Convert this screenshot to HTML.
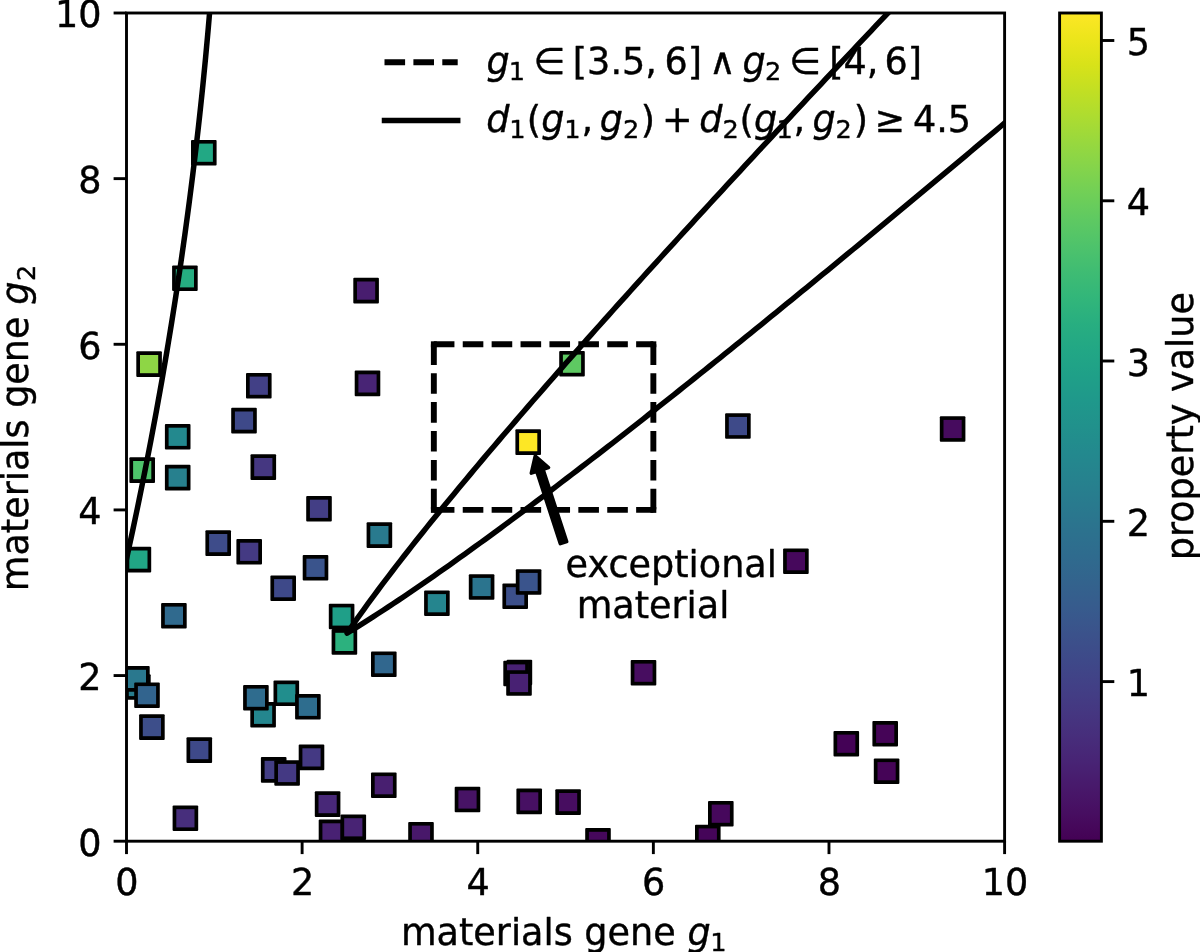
<!DOCTYPE html>
<html><head><meta charset="utf-8"><title>materials genes plot</title>
<style>html,body{margin:0;padding:0;background:#fff}svg{display:block}</style></head>
<body>
<svg width="1200" height="952" viewBox="0 0 1200 952">
<rect width="1200" height="952" fill="#fff"/>
<defs>
<clipPath id="ax"><rect x="126.5" y="13.0" width="878.1" height="828.2"/></clipPath>
<linearGradient id="vg" x1="0" y1="0" x2="0" y2="1"><stop offset="0.0000" stop-color="#fde725"/><stop offset="0.0312" stop-color="#ece51b"/><stop offset="0.0625" stop-color="#d8e219"/><stop offset="0.0938" stop-color="#c2df23"/><stop offset="0.1250" stop-color="#addc30"/><stop offset="0.1562" stop-color="#98d83e"/><stop offset="0.1875" stop-color="#84d44b"/><stop offset="0.2188" stop-color="#70cf57"/><stop offset="0.2500" stop-color="#5ec962"/><stop offset="0.2812" stop-color="#4ec36b"/><stop offset="0.3125" stop-color="#3fbc73"/><stop offset="0.3438" stop-color="#32b67a"/><stop offset="0.3750" stop-color="#28ae80"/><stop offset="0.4062" stop-color="#22a785"/><stop offset="0.4375" stop-color="#1fa088"/><stop offset="0.4688" stop-color="#1f988b"/><stop offset="0.5000" stop-color="#21918c"/><stop offset="0.5312" stop-color="#23898e"/><stop offset="0.5625" stop-color="#26828e"/><stop offset="0.5938" stop-color="#297a8e"/><stop offset="0.6250" stop-color="#2c728e"/><stop offset="0.6562" stop-color="#2f6b8e"/><stop offset="0.6875" stop-color="#33638d"/><stop offset="0.7188" stop-color="#375b8d"/><stop offset="0.7500" stop-color="#3b528b"/><stop offset="0.7812" stop-color="#3e4989"/><stop offset="0.8125" stop-color="#424086"/><stop offset="0.8438" stop-color="#453781"/><stop offset="0.8750" stop-color="#472d7b"/><stop offset="0.9062" stop-color="#482374"/><stop offset="0.9375" stop-color="#48186a"/><stop offset="0.9688" stop-color="#470d60"/><stop offset="1.0000" stop-color="#440154"/></linearGradient>
</defs>
<g clip-path="url(#ax)">
<rect x="191.00" y="139.90" width="25.60" height="25.60" rx="1" fill="#000"/><rect x="194.70" y="143.60" width="18.20" height="18.20" fill="#22a884"/>
<rect x="172.10" y="265.50" width="25.60" height="25.60" rx="1" fill="#000"/><rect x="175.80" y="269.20" width="18.20" height="18.20" fill="#26ad81"/>
<rect x="353.30" y="277.80" width="25.60" height="25.60" rx="1" fill="#000"/><rect x="357.00" y="281.50" width="18.20" height="18.20" fill="#481d6f"/>
<rect x="136.30" y="351.30" width="25.60" height="25.60" rx="1" fill="#000"/><rect x="140.00" y="355.00" width="18.20" height="18.20" fill="#8ed645"/>
<rect x="246.00" y="372.90" width="25.60" height="25.60" rx="1" fill="#000"/><rect x="249.70" y="376.60" width="18.20" height="18.20" fill="#424086"/>
<rect x="354.70" y="370.60" width="25.60" height="25.60" rx="1" fill="#000"/><rect x="358.40" y="374.30" width="18.20" height="18.20" fill="#482475"/>
<rect x="231.20" y="407.80" width="25.60" height="25.60" rx="1" fill="#000"/><rect x="234.90" y="411.50" width="18.20" height="18.20" fill="#3e4989"/>
<rect x="164.90" y="424.00" width="25.60" height="25.60" rx="1" fill="#000"/><rect x="168.60" y="427.70" width="18.20" height="18.20" fill="#23898e"/>
<rect x="129.40" y="457.30" width="25.60" height="25.60" rx="1" fill="#000"/><rect x="133.10" y="461.00" width="18.20" height="18.20" fill="#4ec36b"/>
<rect x="164.90" y="464.80" width="25.60" height="25.60" rx="1" fill="#000"/><rect x="168.60" y="468.50" width="18.20" height="18.20" fill="#27808e"/>
<rect x="250.50" y="454.30" width="25.60" height="25.60" rx="1" fill="#000"/><rect x="254.20" y="458.00" width="18.20" height="18.20" fill="#453781"/>
<rect x="306.20" y="496.00" width="25.60" height="25.60" rx="1" fill="#000"/><rect x="309.90" y="499.70" width="18.20" height="18.20" fill="#433e85"/>
<rect x="366.60" y="522.30" width="25.60" height="25.60" rx="1" fill="#000"/><rect x="370.30" y="526.00" width="18.20" height="18.20" fill="#297a8e"/>
<rect x="205.40" y="530.30" width="25.60" height="25.60" rx="1" fill="#000"/><rect x="209.10" y="534.00" width="18.20" height="18.20" fill="#3e4c8a"/>
<rect x="236.40" y="539.00" width="25.60" height="25.60" rx="1" fill="#000"/><rect x="240.10" y="542.70" width="18.20" height="18.20" fill="#443a83"/>
<rect x="125.60" y="546.80" width="25.60" height="25.60" rx="1" fill="#000"/><rect x="129.30" y="550.50" width="18.20" height="18.20" fill="#21a685"/>
<rect x="302.70" y="555.00" width="25.60" height="25.60" rx="1" fill="#000"/><rect x="306.40" y="558.70" width="18.20" height="18.20" fill="#3a548c"/>
<rect x="270.40" y="575.40" width="25.60" height="25.60" rx="1" fill="#000"/><rect x="274.10" y="579.10" width="18.20" height="18.20" fill="#3e4989"/>
<rect x="161.10" y="602.90" width="25.60" height="25.60" rx="1" fill="#000"/><rect x="164.80" y="606.60" width="18.20" height="18.20" fill="#306a8e"/>
<rect x="331.60" y="629.10" width="25.60" height="25.60" rx="1" fill="#000"/><rect x="335.30" y="632.80" width="18.20" height="18.20" fill="#2cb17e"/>
<rect x="328.80" y="603.70" width="25.60" height="25.60" rx="1" fill="#000"/><rect x="332.50" y="607.40" width="18.20" height="18.20" fill="#1f9f88"/>
<rect x="371.00" y="651.40" width="25.60" height="25.60" rx="1" fill="#000"/><rect x="374.70" y="655.10" width="18.20" height="18.20" fill="#31678e"/>
<rect x="125.10" y="674.20" width="25.60" height="25.60" rx="1" fill="#000"/><rect x="128.80" y="677.90" width="18.20" height="18.20" fill="#287d8e"/>
<rect x="124.10" y="666.10" width="25.60" height="25.60" rx="1" fill="#000"/><rect x="127.80" y="669.80" width="18.20" height="18.20" fill="#2a788e"/>
<rect x="134.20" y="682.40" width="25.60" height="25.60" rx="1" fill="#000"/><rect x="137.90" y="686.10" width="18.20" height="18.20" fill="#32648e"/>
<rect x="139.10" y="714.30" width="25.60" height="25.60" rx="1" fill="#000"/><rect x="142.80" y="718.00" width="18.20" height="18.20" fill="#3d4e8a"/>
<rect x="250.30" y="702.00" width="25.60" height="25.60" rx="1" fill="#000"/><rect x="254.00" y="705.70" width="18.20" height="18.20" fill="#24868e"/>
<rect x="243.10" y="684.90" width="25.60" height="25.60" rx="1" fill="#000"/><rect x="246.80" y="688.60" width="18.20" height="18.20" fill="#2f6c8e"/>
<rect x="273.50" y="680.50" width="25.60" height="25.60" rx="1" fill="#000"/><rect x="277.20" y="684.20" width="18.20" height="18.20" fill="#218e8d"/>
<rect x="295.10" y="694.00" width="25.60" height="25.60" rx="1" fill="#000"/><rect x="298.80" y="697.70" width="18.20" height="18.20" fill="#2e6d8e"/>
<rect x="186.50" y="737.30" width="25.60" height="25.60" rx="1" fill="#000"/><rect x="190.20" y="741.00" width="18.20" height="18.20" fill="#3e4989"/>
<rect x="298.70" y="744.60" width="25.60" height="25.60" rx="1" fill="#000"/><rect x="302.40" y="748.30" width="18.20" height="18.20" fill="#443983"/>
<rect x="260.90" y="757.10" width="25.60" height="25.60" rx="1" fill="#000"/><rect x="264.60" y="760.80" width="18.20" height="18.20" fill="#433e85"/>
<rect x="274.30" y="760.20" width="25.60" height="25.60" rx="1" fill="#000"/><rect x="278.00" y="763.90" width="18.20" height="18.20" fill="#443983"/>
<rect x="172.60" y="805.50" width="25.60" height="25.60" rx="1" fill="#000"/><rect x="176.30" y="809.20" width="18.20" height="18.20" fill="#472e7c"/>
<rect x="314.80" y="791.30" width="25.60" height="25.60" rx="1" fill="#000"/><rect x="318.50" y="795.00" width="18.20" height="18.20" fill="#482878"/>
<rect x="371.00" y="772.40" width="25.60" height="25.60" rx="1" fill="#000"/><rect x="374.70" y="776.10" width="18.20" height="18.20" fill="#481f70"/>
<rect x="318.70" y="819.60" width="25.60" height="25.60" rx="1" fill="#000"/><rect x="322.40" y="823.30" width="18.20" height="18.20" fill="#482173"/>
<rect x="340.50" y="814.50" width="25.60" height="25.60" rx="1" fill="#000"/><rect x="344.20" y="818.20" width="18.20" height="18.20" fill="#482374"/>
<rect x="408.20" y="821.90" width="25.60" height="25.60" rx="1" fill="#000"/><rect x="411.90" y="825.60" width="18.20" height="18.20" fill="#48186a"/>
<rect x="424.10" y="590.40" width="25.60" height="25.60" rx="1" fill="#000"/><rect x="427.80" y="594.10" width="18.20" height="18.20" fill="#25858e"/>
<rect x="468.80" y="574.20" width="25.60" height="25.60" rx="1" fill="#000"/><rect x="472.50" y="577.90" width="18.20" height="18.20" fill="#2b748e"/>
<rect x="502.40" y="583.50" width="25.60" height="25.60" rx="1" fill="#000"/><rect x="506.10" y="587.20" width="18.20" height="18.20" fill="#3c4f8a"/>
<rect x="515.80" y="569.20" width="25.60" height="25.60" rx="1" fill="#000"/><rect x="519.50" y="572.90" width="18.20" height="18.20" fill="#3a548c"/>
<rect x="506.60" y="659.70" width="25.60" height="25.60" rx="1" fill="#000"/><rect x="510.30" y="663.40" width="18.20" height="18.20" fill="#482173"/>
<rect x="503.30" y="660.70" width="25.60" height="25.60" rx="1" fill="#000"/><rect x="507.00" y="664.40" width="18.20" height="18.20" fill="#482173"/>
<rect x="506.20" y="670.20" width="25.60" height="25.60" rx="1" fill="#000"/><rect x="509.90" y="673.90" width="18.20" height="18.20" fill="#482173"/>
<rect x="630.70" y="659.90" width="25.60" height="25.60" rx="1" fill="#000"/><rect x="634.40" y="663.60" width="18.20" height="18.20" fill="#470d60"/>
<rect x="454.70" y="786.70" width="25.60" height="25.60" rx="1" fill="#000"/><rect x="458.40" y="790.40" width="18.20" height="18.20" fill="#471365"/>
<rect x="516.40" y="788.60" width="25.60" height="25.60" rx="1" fill="#000"/><rect x="520.10" y="792.30" width="18.20" height="18.20" fill="#471063"/>
<rect x="555.30" y="789.30" width="25.60" height="25.60" rx="1" fill="#000"/><rect x="559.00" y="793.00" width="18.20" height="18.20" fill="#470d60"/>
<rect x="585.20" y="828.10" width="25.60" height="25.60" rx="1" fill="#000"/><rect x="588.90" y="831.80" width="18.20" height="18.20" fill="#46085c"/>
<rect x="695.00" y="824.70" width="25.60" height="25.60" rx="1" fill="#000"/><rect x="698.70" y="828.40" width="18.20" height="18.20" fill="#450559"/>
<rect x="708.00" y="800.90" width="25.60" height="25.60" rx="1" fill="#000"/><rect x="711.70" y="804.60" width="18.20" height="18.20" fill="#46085c"/>
<rect x="725.10" y="413.25" width="25.60" height="25.60" rx="1" fill="#000"/><rect x="728.80" y="416.95" width="18.20" height="18.20" fill="#3e4a89"/>
<rect x="939.80" y="416.20" width="25.60" height="25.60" rx="1" fill="#000"/><rect x="943.50" y="419.90" width="18.20" height="18.20" fill="#460b5e"/>
<rect x="783.10" y="548.40" width="25.60" height="25.60" rx="1" fill="#000"/><rect x="786.80" y="552.10" width="18.20" height="18.20" fill="#46085c"/>
<rect x="833.50" y="730.90" width="25.60" height="25.60" rx="1" fill="#000"/><rect x="837.20" y="734.60" width="18.20" height="18.20" fill="#440256"/>
<rect x="872.40" y="721.00" width="25.60" height="25.60" rx="1" fill="#000"/><rect x="876.10" y="724.70" width="18.20" height="18.20" fill="#450457"/>
<rect x="873.80" y="758.40" width="25.60" height="25.60" rx="1" fill="#000"/><rect x="877.50" y="762.10" width="18.20" height="18.20" fill="#450457"/>
<rect x="559.20" y="350.90" width="25.60" height="25.60" rx="1" fill="#000"/><rect x="562.90" y="354.60" width="18.20" height="18.20" fill="#5ec962"/>
<rect x="515.40" y="429.35" width="25.60" height="25.60" rx="1" fill="#000"/><rect x="519.10" y="433.05" width="18.20" height="18.20" fill="#fde725"/>
</g>
<g clip-path="url(#ax)" fill="none" stroke="#000" stroke-width="5.5" stroke-linejoin="round" stroke-linecap="round">
<path d="M935.01,-36.69 L930.44,-31.87 L925.86,-27.05 L921.28,-22.24 L916.71,-17.42 L912.14,-12.60 L907.57,-7.78 L903.01,-2.96 L898.44,1.86 L893.88,6.68 L889.33,11.50 L884.77,16.32 L880.22,21.13 L875.67,25.95 L871.12,30.77 L866.57,35.59 L862.03,40.41 L857.49,45.23 L852.95,50.05 L848.41,54.87 L843.88,59.69 L839.35,64.50 L834.82,69.32 L830.30,74.14 L825.78,78.96 L821.26,83.78 L816.74,88.60 L812.23,93.42 L807.72,98.24 L803.21,103.05 L798.71,107.87 L794.21,112.69 L789.71,117.51 L785.22,122.33 L780.73,127.15 L776.24,131.97 L771.75,136.79 L767.27,141.61 L762.79,146.42 L758.32,151.24 L753.85,156.06 L749.38,160.88 L744.92,165.70 L740.46,170.52 L736.00,175.34 L731.55,180.16 L727.10,184.98 L722.66,189.79 L718.22,194.61 L713.78,199.43 L709.35,204.25 L704.92,209.07 L700.49,213.89 L696.07,218.71 L691.66,223.53 L687.25,228.35 L682.84,233.16 L678.44,237.98 L674.04,242.80 L669.65,247.62 L665.26,252.44 L660.88,257.26 L656.50,262.08 L652.12,266.90 L647.75,271.71 L643.39,276.53 L639.03,281.35 L634.68,286.17 L630.33,290.99 L625.99,295.81 L621.65,300.63 L617.32,305.45 L613.00,310.27 L608.68,315.08 L604.37,319.90 L600.06,324.72 L595.76,329.54 L591.47,334.36 L587.18,339.18 L582.90,344.00 L578.62,348.82 L574.36,353.64 L570.10,358.45 L565.84,363.27 L561.60,368.09 L557.36,372.91 L553.13,377.73 L548.91,382.55 L544.69,387.37 L540.49,392.19 L536.29,397.00 L532.10,401.82 L527.92,406.64 L523.74,411.46 L519.58,416.28 L515.43,421.10 L511.28,425.92 L507.15,430.74 L503.02,435.56 L498.91,440.37 L494.80,445.19 L490.71,450.01 L486.63,454.83 L482.55,459.65 L478.49,464.47 L474.45,469.29 L470.41,474.11 L466.39,478.93 L462.38,483.74 L458.38,488.56 L454.39,493.38 L450.42,498.20 L446.47,503.02 L442.52,507.84 L438.60,512.66 L434.69,517.48 L430.79,522.30 L426.91,527.11 L423.05,531.93 L419.20,536.75 L415.38,541.57 L411.57,546.39 L407.78,551.21 L404.01,556.03 L400.27,560.85 L396.54,565.66 L392.83,570.48 L389.15,575.30 L385.49,580.12 L381.86,584.94 L378.25,589.76 L374.67,594.58 L371.12,599.40 L367.59,604.22 L364.09,609.03 L360.63,613.85 L357.20,618.67 L353.80,623.49 L350.43,628.31 L347.11,633.13 L352.22,629.99 L357.33,626.82 L362.44,623.61 L367.54,620.38 L372.65,617.11 L377.76,613.81 L382.87,610.49 L387.98,607.13 L393.09,603.75 L398.20,600.35 L403.31,596.92 L408.42,593.47 L413.53,590.00 L418.64,586.51 L423.75,582.99 L428.85,579.46 L433.96,575.90 L439.07,572.33 L444.18,568.74 L449.29,565.13 L454.40,561.50 L459.51,557.86 L464.62,554.20 L469.73,550.53 L474.84,546.84 L479.95,543.14 L485.06,539.42 L490.17,535.69 L495.27,531.94 L500.38,528.18 L505.49,524.41 L510.60,520.63 L515.71,516.83 L520.82,513.03 L525.93,509.21 L531.04,505.38 L536.15,501.54 L541.26,497.69 L546.37,493.83 L551.48,489.96 L556.58,486.07 L561.69,482.18 L566.80,478.28 L571.91,474.38 L577.02,470.46 L582.13,466.53 L587.24,462.60 L592.35,458.65 L597.46,454.70 L602.57,450.74 L607.68,446.77 L612.79,442.80 L617.90,438.81 L623.00,434.82 L628.11,430.83 L633.22,426.82 L638.33,422.81 L643.44,418.79 L648.55,414.77 L653.66,410.74 L658.77,406.70 L663.88,402.66 L668.99,398.61 L674.10,394.55 L679.21,390.49 L684.31,386.42 L689.42,382.35 L694.53,378.27 L699.64,374.18 L704.75,370.09 L709.86,366.00 L714.97,361.90 L720.08,357.79 L725.19,353.68 L730.30,349.57 L735.41,345.45 L740.52,341.32 L745.63,337.19 L750.73,333.06 L755.84,328.92 L760.95,324.77 L766.06,320.63 L771.17,316.47 L776.28,312.32 L781.39,308.16 L786.50,303.99 L791.61,299.82 L796.72,295.65 L801.83,291.47 L806.94,287.29 L812.04,283.11 L817.15,278.92 L822.26,274.73 L827.37,270.53 L832.48,266.33 L837.59,262.13 L842.70,257.92 L847.81,253.71 L852.92,249.50 L858.03,245.28 L863.14,241.06 L868.25,236.84 L873.35,232.61 L878.46,228.38 L883.57,224.15 L888.68,219.92 L893.79,215.68 L898.90,211.44 L904.01,207.19 L909.12,202.94 L914.23,198.69 L919.34,194.44 L924.45,190.18 L929.56,185.92 L934.67,181.66 L939.77,177.40 L944.88,173.13 L949.99,168.86 L955.10,164.59 L960.21,160.31 L965.32,156.03 L970.43,151.75 L975.54,147.47 L980.65,143.19 L985.76,138.90 L990.87,134.61 L995.98,130.32 L1001.08,126.02 L1006.19,121.72 L1011.30,117.42 L1016.41,113.12 L1021.52,108.82 L1026.63,104.51 L1031.74,100.20 L1036.85,95.89 L1041.96,91.58 L1047.07,87.27 L1052.18,82.95 L1057.29,78.63"/>
<path d="M124.51,567.89 L126.69,558.07 L128.84,548.24 L130.97,538.42 L133.08,528.59 L135.16,518.76 L137.22,508.94 L139.25,499.11 L141.26,489.29 L143.24,479.46 L145.20,469.63 L147.14,459.81 L149.05,449.98 L150.93,440.15 L152.80,430.33 L154.64,420.50 L156.45,410.68 L158.24,400.85 L160.01,391.02 L161.75,381.20 L163.47,371.37 L165.16,361.55 L166.83,351.72 L168.47,341.89 L170.10,332.07 L171.69,322.24 L173.26,312.42 L174.81,302.59 L176.34,292.76 L177.84,282.94 L179.31,273.11 L180.76,263.28 L182.19,253.46 L183.59,243.63 L184.97,233.81 L186.33,223.98 L187.66,214.15 L188.96,204.33 L190.24,194.50 L191.50,184.68 L192.73,174.85 L193.94,165.02 L195.13,155.20 L196.29,145.37 L197.43,135.55 L198.54,125.72 L199.63,115.89 L200.69,106.07 L201.73,96.24 L202.74,86.42 L203.74,76.59 L204.70,66.76 L205.65,56.94 L206.56,47.11 L207.46,37.28 L208.33,27.46 L209.17,17.63 L210.00,7.81 L210.79,-2.02 L211.57,-11.85"/>
</g>
<g fill="none" stroke="#000" stroke-width="5.9" stroke-dasharray="20.6 8.3">
<path d="M433.84,344.28 H653.36"/><path d="M433.84,509.92 H653.36"/>
<path d="M433.84,344.28 V509.92"/><path d="M653.36,344.28 V509.92"/>
</g>
<rect x="430.89" y="341.33" width="5.9" height="5.9" fill="#000"/>
<rect x="650.41" y="341.33" width="5.9" height="5.9" fill="#000"/>
<rect x="430.89" y="506.97" width="5.9" height="5.9" fill="#000"/>
<rect x="650.41" y="506.97" width="5.9" height="5.9" fill="#000"/>
<polygon points="535.25,456.06 548.46,467.53 543.04,469.30 566.64,541.58 560.36,543.62 536.77,471.34 531.35,473.11" fill="#000" stroke="#000" stroke-width="3.6" stroke-linejoin="round"/>
<g stroke="#000" stroke-width="2.9" fill="none" stroke-linecap="butt">
<path d="M126.50,841.2 v12.9"/>
<path d="M126.5,841.20 h-12.9"/>
<path d="M302.12,841.2 v12.9"/>
<path d="M126.5,675.56 h-12.9"/>
<path d="M477.74,841.2 v12.9"/>
<path d="M126.5,509.92 h-12.9"/>
<path d="M653.36,841.2 v12.9"/>
<path d="M126.5,344.28 h-12.9"/>
<path d="M828.98,841.2 v12.9"/>
<path d="M126.5,178.64 h-12.9"/>
<path d="M1004.60,841.2 v12.9"/>
<path d="M126.5,13.00 h-12.9"/>
<rect x="126.5" y="13.0" width="878.10" height="828.20" stroke-linejoin="miter"/>
</g>
<rect x="1059.6" y="13.0" width="41.80" height="828.20" fill="url(#vg)"/>
<g stroke="#000" stroke-width="2.9" fill="none">
<path d="M1101.4,681.6 h12.9"/>
<path d="M1101.4,521.3 h12.9"/>
<path d="M1101.4,361.0 h12.9"/>
<path d="M1101.4,200.8 h12.9"/>
<path d="M1101.4,40.5 h12.9"/>
<rect x="1059.6" y="13.0" width="41.80" height="828.20"/>
</g>
<g font-family="DejaVu Sans, Liberation Sans, sans-serif" fill="#000" stroke="#000" stroke-width="0.4" stroke-linejoin="round">
<text x="126.90" y="894.90" font-size="36.60" text-anchor="middle" >0</text>
<text x="302.52" y="894.90" font-size="36.60" text-anchor="middle" >2</text>
<text x="478.14" y="894.90" font-size="36.60" text-anchor="middle" >4</text>
<text x="653.76" y="894.90" font-size="36.60" text-anchor="middle" >6</text>
<text x="829.38" y="894.90" font-size="36.60" text-anchor="middle" >8</text>
<text x="1005.00" y="894.90" font-size="36.60" text-anchor="middle" >10</text>
<text x="101.60" y="855.54" font-size="36.60" text-anchor="end" >0</text>
<text x="101.60" y="689.90" font-size="36.60" text-anchor="end" >2</text>
<text x="101.60" y="524.26" font-size="36.60" text-anchor="end" >4</text>
<text x="101.60" y="358.62" font-size="36.60" text-anchor="end" >6</text>
<text x="101.60" y="192.98" font-size="36.60" text-anchor="end" >8</text>
<text x="101.60" y="27.34" font-size="36.60" text-anchor="end" >10</text>
<text x="1126.70" y="696.24" font-size="36.60" text-anchor="start" >1</text>
<text x="1126.70" y="535.94" font-size="36.60" text-anchor="start" >2</text>
<text x="1126.70" y="375.64" font-size="36.60" text-anchor="start" >3</text>
<text x="1126.70" y="215.44" font-size="36.60" text-anchor="start" >4</text>
<text x="1126.70" y="55.14" font-size="36.60" text-anchor="start" >5</text>
<text x="400.98" y="944.50" font-size="36.60" text-anchor="start" >materials gene</text>
<text x="687.52" y="944.50" font-size="36.60" text-anchor="start" font-style="italic" >g</text>
<text x="710.19" y="950.70" font-size="25.62" text-anchor="start" >1</text>
<g transform="translate(28.4,587.9) rotate(-90)">
<text x="-3.32" y="0.00" font-size="36.60" text-anchor="start" >materials gene</text>
<text x="283.22" y="0.00" font-size="36.60" text-anchor="start" font-style="italic" >g</text>
<text x="306.82" y="6.20" font-size="25.62" text-anchor="start" >2</text>
</g>
<g transform="translate(1192.8,556.9) rotate(-90)">
<text x="-3.32" y="0.00" font-size="36.60" text-anchor="start" >property value</text>
</g>
<text x="565.58" y="577.00" font-size="36.60" text-anchor="start" >exceptional</text>
<text x="576.68" y="618.00" font-size="36.60" text-anchor="start" >material</text>
<text x="486.42" y="74.00" font-size="36.60" text-anchor="start" font-style="italic" >g</text>
<text x="508.79" y="80.20" font-size="25.62" text-anchor="start" >1</text>
<text x="533.47" y="74.00" font-size="36.60" text-anchor="start" >∈</text>
<text x="572.85" y="74.00" font-size="36.60" text-anchor="start" >[3.5,</text>
<text x="664.44" y="74.00" font-size="36.60" text-anchor="start" >6]</text>
<text x="708.88" y="74.00" font-size="36.60" text-anchor="start" >∧</text>
<text x="742.42" y="74.00" font-size="36.60" text-anchor="start" font-style="italic" >g</text>
<text x="765.12" y="80.20" font-size="25.62" text-anchor="start" >2</text>
<text x="789.27" y="74.00" font-size="36.60" text-anchor="start" >∈</text>
<text x="829.25" y="74.00" font-size="36.60" text-anchor="start" >[4,</text>
<text x="884.44" y="74.00" font-size="36.60" text-anchor="start" >6]</text>
<text x="486.32" y="132.00" font-size="36.60" text-anchor="start" font-style="italic" >d</text>
<text x="509.19" y="138.20" font-size="25.62" text-anchor="start" >1</text>
<text x="526.85" y="132.00" font-size="36.60" text-anchor="start" >(</text>
<text x="541.22" y="132.00" font-size="36.60" text-anchor="start" font-style="italic" >g</text>
<text x="564.19" y="138.20" font-size="25.62" text-anchor="start" >1</text>
<text x="581.58" y="132.00" font-size="36.60" text-anchor="start" >,</text>
<text x="599.82" y="132.00" font-size="36.60" text-anchor="start" font-style="italic" >g</text>
<text x="623.12" y="138.20" font-size="25.62" text-anchor="start" >2</text>
<text x="640.67" y="132.00" font-size="36.60" text-anchor="start" >)</text>
<text x="662.12" y="132.00" font-size="36.60" text-anchor="start" >+</text>
<text x="699.22" y="132.00" font-size="36.60" text-anchor="start" font-style="italic" >d</text>
<text x="722.42" y="138.20" font-size="25.62" text-anchor="start" >2</text>
<text x="739.55" y="132.00" font-size="36.60" text-anchor="start" >(</text>
<text x="754.02" y="132.00" font-size="36.60" text-anchor="start" font-style="italic" >g</text>
<text x="776.59" y="138.20" font-size="25.62" text-anchor="start" >1</text>
<text x="793.48" y="132.00" font-size="36.60" text-anchor="start" >,</text>
<text x="812.52" y="132.00" font-size="36.60" text-anchor="start" font-style="italic" >g</text>
<text x="835.52" y="138.20" font-size="25.62" text-anchor="start" >2</text>
<text x="853.77" y="132.00" font-size="36.60" text-anchor="start" >)</text>
<text x="874.62" y="132.00" font-size="36.60" text-anchor="start" >≥</text>
<text x="912.91" y="132.00" font-size="36.60" text-anchor="start" >4.5</text>
</g>
<path d="M384.5,62.3 H457.7" stroke="#000" stroke-width="5.9" stroke-dasharray="20.6 8.3" fill="none"/>
<path d="M384.5,120.5 H457.7" stroke="#000" stroke-width="5.5" stroke-linecap="square" fill="none"/>
</svg>
</body></html>
